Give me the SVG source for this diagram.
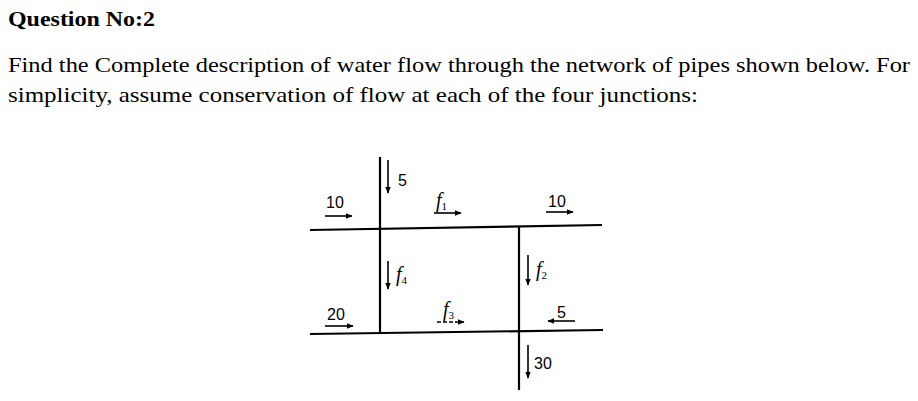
<svg xmlns="http://www.w3.org/2000/svg" width="918" height="401" viewBox="0 0 918 401">
<defs>
<marker id="ah" viewBox="0 0 10 10" refX="9" refY="5" markerWidth="7" markerHeight="7" orient="auto" markerUnits="userSpaceOnUse"><path d="M0,1 L10,5 L0,9 z" fill="#000"/></marker>
</defs>
<style>
.t{font-family:"Liberation Serif",serif;fill:#000}
.l{font-family:"Liberation Sans",sans-serif;font-size:16px;fill:#000}
.f{font-family:"Liberation Serif",serif;font-style:italic;font-size:20px;fill:#000}
.s{font-size:11px;font-style:normal}
.p{stroke:#000;stroke-width:2.2;fill:none}
.a{stroke:#000;stroke-width:1.6;fill:none;marker-end:url(#ah)}
</style>
<rect width="918" height="401" fill="#fff"/>
<text class="t" x="8" y="26" font-size="20" font-weight="bold" textLength="147" lengthAdjust="spacingAndGlyphs">Question No:2</text>
<text class="t" x="8" y="72" font-size="21" textLength="902" lengthAdjust="spacingAndGlyphs">Find the Complete description of water flow through the network of pipes shown below. For</text>
<text class="t" x="8" y="102" font-size="21" textLength="690" lengthAdjust="spacingAndGlyphs">simplicity, assume conservation of flow at each of the four junctions:</text>
<g id="pipes">
<path class="p" d="M310,230 L602,225"/>
<path class="p" d="M310,334 L603,330"/>
<path class="p" d="M380,157 L380,333"/>
<path class="p" d="M519,227 L519,390"/>
</g>
<g id="connectors">
<path class="a" d="M388,160 L388,193"/>
<path class="a" d="M325,216 L352,216"/>
<path class="a" d="M434,213 L461,213"/>
<path class="a" d="M546,212 L573,212"/>
<path class="a" d="M388,261 L388,289"/>
<path class="a" d="M528,255 L528,285"/>
<path class="a" d="M325,326 L353,326"/>
<path class="a" d="M437,322 L464,322" stroke-dasharray="4,2"/>
<path class="a" d="M575,321 L548,321"/>
<path class="a" d="M528,345 L528,378"/>
</g>
<g id="labels">
<text class="l" x="398" y="186">5</text>
<text class="l" x="326" y="208">10</text>
<text class="f" x="436" y="207">f<tspan class="s" dy="3">1</tspan></text>
<text class="l" x="548" y="207">10</text>
<text class="f" x="396" y="281">f<tspan class="s" dy="3">4</tspan></text>
<text class="f" x="536" y="276">f<tspan class="s" dy="3">2</tspan></text>
<text class="l" x="327" y="320">20</text>
<text class="f" x="443" y="316">f<tspan class="s" dy="3">3</tspan></text>
<text class="l" x="557" y="318">5</text>
<text class="l" x="534" y="369">30</text>
</g>
</svg>
